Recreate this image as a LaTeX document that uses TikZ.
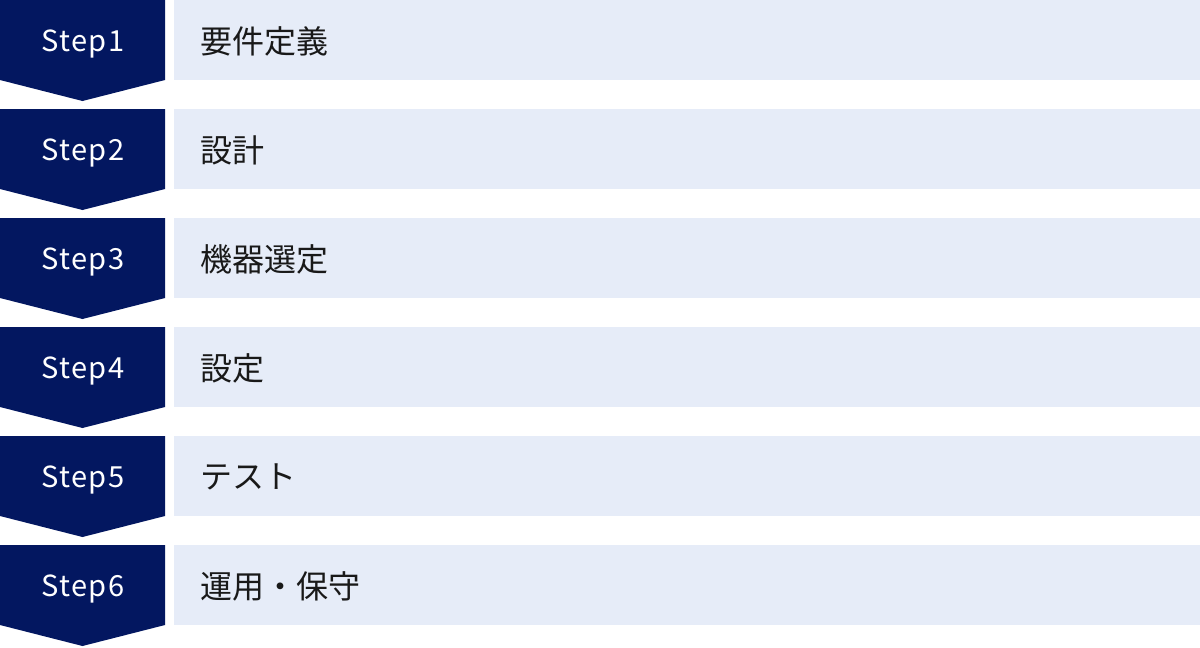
\documentclass[tikz,border=0pt]{standalone}
\usepackage{fontspec}
\setmainfont{Noto Sans CJK JP}
\newfontfamily\stepfont[LetterSpace=5]{Noto Sans CJK JP}
\usetikzlibrary{positioning}
\definecolor{navy}{RGB}{3,23,96}
\definecolor{paleblue}{RGB}{230,236,248}

\begin{document}
\begin{tikzpicture}[x=0.75pt,y=-0.75pt]
\useasboundingbox (0,0) rectangle (1200,647);
\tikzset{
    chevron/.pic={\fill[navy] (0,0) -- (165,0) -- (165,80) -- (82.5,101) -- (0,80) -- cycle;},
}
% left arrows
\begin{scope}
    \pic at (0,0) {chevron};
    \pic at (0,109) {chevron};
    \pic at (0,218) {chevron};
    \pic at (0,327) {chevron};
    \pic at (0,436) {chevron};
    \pic at (0,545) {chevron};
\end{scope}
% pale bars
\begin{scope}[every path/.style={fill=paleblue}]
    \path (174,0) rectangle (1200,80);
    \path (174,109) rectangle (1200,189);
    \path (174,218) rectangle (1200,298);
    \path (174,327) rectangle (1200,407);
    \path (174,436) rectangle (1200,516);
    \path (174,545) rectangle (1200,625);
\end{scope}
\begin{scope}[every node/.style={text=white,font=\stepfont\fontsize{21.8}{24}\selectfont,inner sep=0pt}]
    \node (S1) at (83,44) {Step1};
    \node (S2) at (83,153) {Step2};
    \node (S3) at (83,262) {Step3};
    \node (S4) at (83,371) {Step4};
    \node (S5) at (83,480) {Step5};
    \node (S6) at (83,589) {Step6};
\end{scope}
\begin{scope}[every node/.style={text=black!90,font=\fontsize{24}{28}\selectfont,anchor=west,inner sep=0pt}]
    \node (T1) at (200,41) {要件定義};
    \node (T2) at (200,150) {設計};
    \node (T3) at (200,259) {機器選定};
    \node (T4) at (200,368) {設定};
    \node (T5) at (200,477) {テスト};
    \node (T6) at (200,586) {運用・保守};
\end{scope}
\end{tikzpicture}
\end{document}
